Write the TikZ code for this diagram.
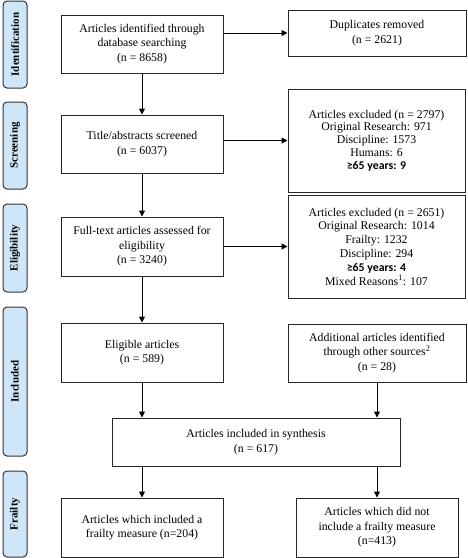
\documentclass[tikz,border=0pt]{standalone}
\usepackage{fontspec}
\setmainfont{Liberation Serif}
\newfontfamily\calib{Carlito}
\usetikzlibrary{arrows.meta}
\definecolor{labblue}{RGB}{206,230,248}
\newcommand{\geb}[1]{{\calib\bfseries #1}}
\begin{document}
\begin{tikzpicture}[x=1pt,y=-1pt,
 box/.style={draw=black!85, line width=1pt, align=center, inner sep=0pt, font=\fontsize{11.8}{14.5}\selectfont},
 exbox/.style={box, font=\fontsize{11.8}{12.7}\selectfont},
 lab/.style={draw=black!80, line width=1pt, fill=labblue, rounded corners=4pt, inner sep=0pt, font=\bfseries\fontsize{11}{13}\selectfont},
 arr/.style={-{Triangle[length=6pt,width=6pt]}, line width=1pt}]
\useasboundingbox (0,0) rectangle (467,558);
% side labels
\node[lab, minimum width=24pt, minimum height=87pt] (l1) at (15,44.5) {\rotatebox{90}{Identification}};
\node[lab, minimum width=24pt, minimum height=87pt] (l2) at (15,145.5) {\rotatebox{90}{Screening}};
\node[lab, minimum width=24pt, minimum height=88pt] (l3) at (15,248) {\rotatebox{90}{Eligibility}};
\node[lab, minimum width=24pt, minimum height=149pt] (l4) at (15,381.5) {\rotatebox{90}{Included}};
\node[lab, minimum width=24pt, minimum height=86pt] (l5) at (15,514) {\rotatebox{90}{Frailty}};
% main boxes
\node[box, minimum width=162pt, minimum height=58pt] (b1) at (142,44) {Articles identified through\\database searching\\(n = 8658)};
\node[box, minimum width=178pt, minimum height=46pt] (dup) at (377,33) {Duplicates removed\\(n = 2621)};
\node[box, minimum width=162pt, minimum height=58pt] (b2) at (142,144) {Title/abstracts screened\\(n = 6037)};
\node[exbox, minimum width=177pt, minimum height=103pt] (ex1) at (376.5,140.5) {Articles excluded (n = 2797)\\Original Research: 971\\Discipline: 1573\\Humans: 6\\\geb{≥65 years: 9}};
\node[box, minimum width=162pt, minimum height=59pt] (b3) at (142,246.5) {Full-text articles assessed for\\eligibility\\(n = 3240)};
\node[exbox, font=\fontsize{11.8}{13.8}\selectfont, minimum width=177pt, minimum height=103pt] (ex2) at (376.5,246.5) {Articles excluded (n = 2651)\\Original Research: 1014\\Frailty: 1232\\Discipline: 294\\\geb{≥65 years: 4}\\Mixed Reasons\textsuperscript{1}: 107};
\node[box, minimum width=162pt, minimum height=59pt] (b4) at (142,352.5) {Eligible articles\\(n = 589)};
\node[box, minimum width=178pt, minimum height=58pt] (add) at (377,353) {Additional articles identified\\through other sources\textsuperscript{2}\\(n = 28)};
\node[box, minimum width=288pt, minimum height=48pt] (syn) at (256,442) {Articles included in synthesis\\(n = 617)};
\node[box, minimum width=162pt, minimum height=59pt] (f1) at (142,527.5) {Articles which included a\\frailty measure (n=204)};
\node[box, minimum width=162pt, minimum height=59pt] (f2) at (377,527.5) {Articles which did not\\include a frailty measure\\(n=413)};
% connectors
\draw[arr] (b1) -- (b2);
\draw[arr] (b2) -- (b3);
\draw[arr] (b3) -- (b4);
\draw[arr] (b1.east |- dup.west) -- (dup.west);
\draw[arr] (b2.east |- ex1.west) -- (ex1.west);
\draw[arr] (b3.east |- ex2.west) -- (ex2.west);
\draw[arr] (b4) -- (b4 |- syn.north);
\draw[arr] (add) -- (add |- syn.north);
\draw[arr] (syn.south -| f1) -- (f1.north);
\draw[arr] (syn.south -| f2) -- (f2.north);
\end{tikzpicture}
\end{document}
